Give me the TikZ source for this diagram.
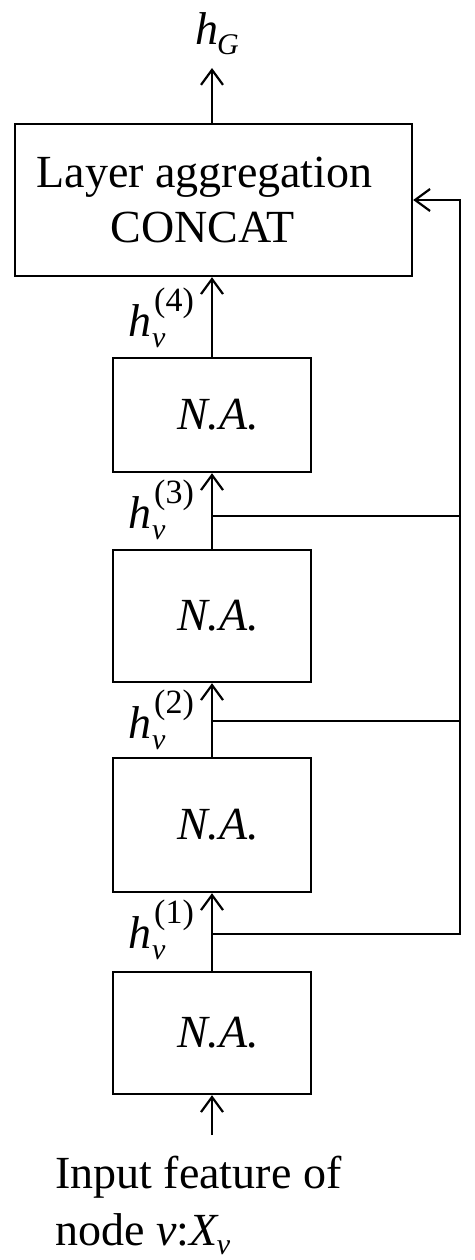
\documentclass[tikz,border=0pt]{standalone}
\usepackage{fontspec}
\setmainfont{Liberation Serif}
\usetikzlibrary{arrows.meta}
\newcommand{\smallfnt}{\fontsize{30}{30}\selectfont}
\newcommand{\supfnt}{\fontsize{34}{34}\selectfont}
\newcommand{\hvlab}[1]{\textit{h}\hspace{3pt}\makebox[0pt][l]{\raisebox{25pt}{\supfnt(#1)}}\hspace{-2pt}\raisebox{-11pt}{\smallfnt\textit{v}}}
\begin{document}
\begin{tikzpicture}[x=1pt,y=-1pt,
  box/.style={draw, line width=2.4pt, inner sep=0pt, minimum width=198pt, font=\fontsize{46}{55}\selectfont\itshape},
  conn/.style={line width=2.4pt, line join=miter},
  arr/.style={line width=2.4pt, line join=miter, -{Straight Barb[length=15pt,width=22pt,line width=2.2pt]}},
  bigtxt/.style={font=\fontsize{46}{55}\selectfont, inner sep=0pt},
  lbl/.style={font=\fontsize{46}{55}\selectfont, inner sep=0pt}]
\useasboundingbox (0,0) rectangle (474,1260);
% boxes
\node[box, minimum width=397pt, minimum height=152pt, align=center, font=\fontsize{46}{55}\selectfont] (agg) at (213.5,200) {Layer aggregation\hspace*{18pt}\\CONCAT\hspace*{22pt}};
\node[box, minimum height=114pt] (na4) at (212,415) {\hspace*{12pt}N.A.};
\node[box, minimum height=132pt] (na3) at (212,616) {\hspace*{12pt}N.A.};
\node[box, minimum height=134pt] (na2) at (212,825) {\hspace*{12pt}N.A.};
\node[box, minimum height=122pt] (na1) at (212,1033) {\hspace*{12pt}N.A.};
% coordinates
\coordinate (hgtip) at (212,68);
\coordinate (in) at (212,1135);
\coordinate (j3) at (212,516);
\coordinate (j2) at (212,721);
\coordinate (j1) at (212,934);
\coordinate (r3) at (460,516);
\coordinate (r2) at (460,721);
\coordinate (r1) at (460,934);
\coordinate (rt) at (460,200);
% connectors
\draw[arr] (agg.north -| hgtip) -- (hgtip);
\draw[arr] (na4.north) -- (na4.north |- agg.south);
\draw[arr] (na3.north) -- (na4.south);
\draw[arr] (na2.north) -- (na3.south);
\draw[arr] (na1.north) -- (na2.south);
\draw[arr] (in) -- (na1.south);
\draw[arr] (j1) -- (r1) -- (rt) -- (agg.east);
\draw[conn] (j2) -- (r2);
\draw[conn] (j3) -- (r3);
% labels
\node[lbl, anchor=base west] (hG) at (195,45) {\textit{h}\hspace{-1pt}\raisebox{-10pt}{\fontsize{30}{30}\selectfont\textit{G}}};
\node[lbl, anchor=base west] (l4) at (128,336) {\hvlab{4}};
\node[lbl, anchor=base west] (l3) at (128,528) {\hvlab{3}};
\node[lbl, anchor=base west] (l2) at (128,738) {\hvlab{2}};
\node[lbl, anchor=base west] (l1) at (128,948) {\hvlab{1}};
\node[bigtxt, anchor=base west] (in1) at (55,1188) {Input feature of};
\node[bigtxt, anchor=base west] (in2) at (55,1245) {node \textit{v}:\textit{X}\hspace{-2pt}\raisebox{-9pt}{\smallfnt\textit{v}}};
\end{tikzpicture}
\end{document}
